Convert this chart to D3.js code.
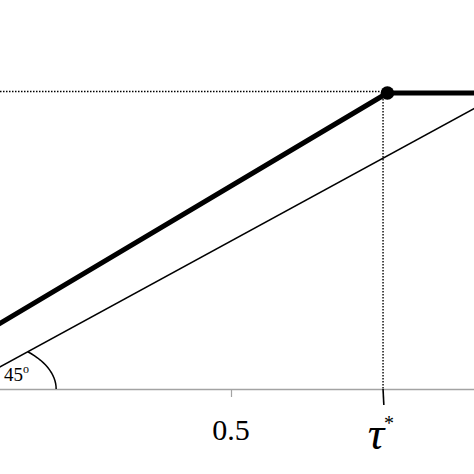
<!DOCTYPE html>
<html>
<head>
<meta charset="utf-8">
<script src="https://cdn.jsdelivr.net/npm/d3@7"></script>
<style>
  html, body { margin: 0; padding: 0; background: #fff; }
  svg { display: block; }
  text { font-family: "Liberation Serif", "Times New Roman", serif; fill: #000; }
</style>
</head>
<body>
<svg id="chart" width="474" height="474"></svg>
<script>
// ---------- data ----------
const xTicks = [0.5];
const tickLabels = ["0.5"];
const tauStar = 0.78;
const capLevel = 1;
// thick line: rises, then flat from the kink
const thickX = [0, 0.788, 1.1];
const thickY = [0.14, 1, 1];
const kink = { x: 0.788, y: 1 };
// thin 45 degree line
const thinX = [0, 1.1];
const thinY = [0, 1.1];
const arcRadius = 0.178;
const angleDeg = 45;

const svg = d3.select("#chart");

// ---------- scales ----------
const x = d3.scaleLinear().domain([0, 1]).range([-40.5, 502.5]);
const y = d3.scaleLinear().domain([0, 1]).range([389, 93]);

const line = d3.line().x(d => x(d[0])).y(d => y(d[1]));

// ---------- axis ----------
const axisG = svg.append("g").attr("transform", `translate(0,${y(0)})`)
  .call(d3.axisBottom(x).tickValues(xTicks).tickSize(8).tickFormat(""));
axisG.select(".domain").attr("stroke", "#a3a3a3").attr("stroke-width", 1.5);
axisG.selectAll(".tick line").attr("stroke", "#a3a3a3").attr("stroke-width", 1.2);

svg.selectAll("text.xLbl").data(xTicks).join("text")
  .attr("class", "xLbl")
  .attr("x", d => x(d)).attr("y", 440)
  .attr("text-anchor", "middle")
  .attr("font-size", 30)
  .text((d, i) => tickLabels[i]);

// tau* tick + label
svg.append("line")
  .attr("x1", x(tauStar)).attr("x2", x(tauStar) + 0.8)
  .attr("y1", y(0)).attr("y2", y(0) + 16)
  .attr("stroke", "#000").attr("stroke-width", 1.6);
svg.append("text")
  .attr("x", x(tauStar) - 7).attr("y", 449)
  .attr("text-anchor", "middle")
  .attr("font-size", 46).attr("font-style", "italic")
  .text("τ");
svg.append("text")
  .attr("x", x(tauStar) + 6).attr("y", 430)
  .attr("text-anchor", "middle")
  .attr("font-size", 20)
  .text("*");

// ---------- dotted guides ----------
svg.append("line")
  .attr("x1", 0).attr("x2", x(tauStar))
  .attr("y1", y(capLevel) - 1.5).attr("y2", y(capLevel) - 1.5)
  .attr("stroke", "#000").attr("stroke-width", 1.4)
  .attr("stroke-dasharray", "1.5,1.5");
svg.append("line")
  .attr("x1", x(tauStar)).attr("x2", x(tauStar))
  .attr("y1", y(capLevel)).attr("y2", y(0))
  .attr("stroke", "#000").attr("stroke-width", 1.4)
  .attr("stroke-dasharray", "1.5,1.5");

// ---------- thin 45 degree line ----------
svg.append("path")
  .datum(thinX.map((v, i) => [v, thinY[i]]))
  .attr("d", line)
  .attr("fill", "none").attr("stroke", "#000").attr("stroke-width", 1.5);

// angle arc (circle in data units)
const arcPts = d3.range(0, angleDeg + 1, 3).map(a => {
  const t = a * Math.PI / 180;
  return [arcRadius * Math.cos(t), arcRadius * Math.sin(t)];
});
svg.append("path")
  .datum(arcPts)
  .attr("d", line)
  .attr("fill", "none").attr("stroke", "#000").attr("stroke-width", 1.5);

const ang = svg.append("text")
  .attr("x", 4).attr("y", 381)
  .attr("font-size", 19);
ang.append("tspan").text(String(angleDeg));
ang.append("tspan").attr("font-size", 12).attr("dy", -8).text("o");

// ---------- thick line ----------
svg.append("path")
  .datum(thickX.map((v, i) => [v, thickY[i]]))
  .attr("d", line)
  .attr("fill", "none").attr("stroke", "#000").attr("stroke-width", 5)
  .attr("stroke-linejoin", "round");

svg.append("circle")
  .attr("cx", x(kink.x)).attr("cy", y(kink.y))
  .attr("r", 6.8).attr("fill", "#000");
</script>
</body>
</html>
